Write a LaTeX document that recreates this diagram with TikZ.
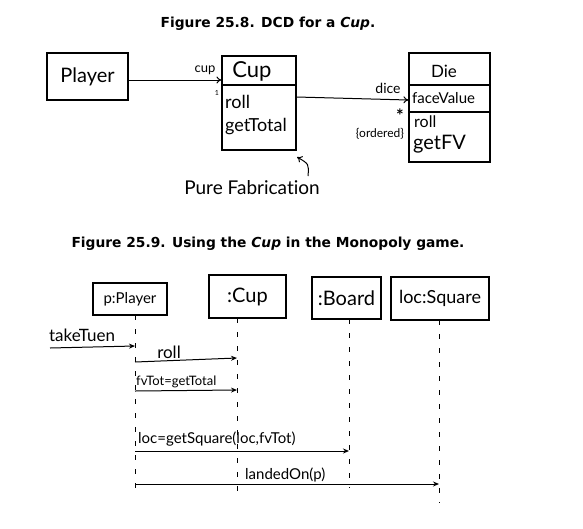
\documentclass[tikz,border=0pt]{standalone}
\usepackage{fontspec}
\setmainfont{Lato}[Ligatures=NoCommon]
\newfontfamily\titlefont{DejaVu Sans}
\usetikzlibrary{arrows.meta,positioning}
\newcommand{\fs}[1]{\fontsize{#1}{#1}\selectfont}
\tikzset{
  classbox/.style={draw, line width=1.1pt, inner sep=0pt},
  objbox/.style={draw, line width=1.1pt, inner sep=3pt},
  lifeline/.style={line width=1pt, dash pattern=on 5pt off 9pt},
  msg/.style={line width=1pt, -{Stealth[length=6pt,width=5pt]}},
  assoc/.style={line width=1pt, -{To[length=5pt,width=7pt]}},
  figtitle/.style={font=\titlefont\bfseries\fs{13.8}},
}
\begin{document}
\begin{tikzpicture}[x=1pt,y=-1pt]
\useasboundingbox[fill=white] (0,0) rectangle (583,528);
% Figure 25.8
\node[figtitle] (t1) at (268,24) {Figure 25.8. DCD for a \textit{Cup}.};
\node[classbox, minimum width=81, minimum height=47, font=\fs{20}] (player) at (87.5,76.5) {Player};
\node[classbox, minimum width=74, minimum height=94] (cup) at (259,103) {};
\draw[line width=1.1pt] (cup.west |- 0,85) -- (cup.east |- 0,85);
\node[font=\fs{22}] (cupname) at (252,71) {Cup};
\node[font=\fs{18}, anchor=west, inner sep=1pt] (cuproll) at (224,102) {roll};
\node[font=\fs{18}, anchor=west, inner sep=1pt] (cuptotal) at (224,127) {getTotal};
\node[classbox, minimum width=81, minimum height=109] (die) at (449.5,107.5) {};
\draw[line width=1.1pt] (die.west |- 0,85) -- (die.east |- 0,85);
\draw[line width=1.1pt] (die.west |- 0,112) -- (die.east |- 0,112);
\node[font=\fs{17}] (diename) at (444,71) {Die};
\node[font=\fs{15}, anchor=west, inner sep=1pt] (dieattr) at (411,98) {faceValue};
\node[font=\fs{16}, anchor=west, inner sep=1pt] (dieops) at (413,122) {roll};
\node[font=\fs{20}, anchor=west, inner sep=1pt] (diefv) at (412,144) {getFV};
\draw[assoc] (player.east |- 0,80) -- (cup.west |- 0,80);
\node[font=\fs{13}] (cuprole) at (205,70) {cup};
\node[font=\fs{7}] (cupmult) at (217,93) {1};
\draw[assoc] (cup.east |- 0,97) -- (die.west |- 0,100);
\node[font=\fs{14}] (dicerole) at (388,88) {dice};
\node[font=\bfseries\fs{18}, inner sep=0pt] (dicemult) at (400,116) {*};
\node[font=\fs{12}, inner sep=1pt] (ordered) at (380,134) {\{ordered\}};
\node[font=\fs{19}] (purefab) at (252,188) {Pure Fabrication};
\coordinate (fabtail) at (308,176);
\draw[assoc] (fabtail) .. controls (309,164) .. (297,157);
% Figure 25.9
\node[figtitle] (t2) at (268,244) {Figure 25.9. Using the \textit{Cup} in the Monopoly game.};
\node[objbox, minimum width=74, minimum height=32, font=\fs{15}] (pplayer) at (130,299) {p:Player};
\node[objbox, minimum width=77, minimum height=43, font=\fs{20}] (ocup) at (247.5,296.5) {:Cup};
\node[objbox, minimum width=69, minimum height=42, font=\fs{20}] (board) at (346.5,298) {:Board};
\node[objbox, minimum width=98, minimum height=43, font=\fs{18}] (square) at (440,298.5) {loc:Square};
\coordinate (lp) at (135,315);
\coordinate (lc) at (237,318);
\coordinate (lb) at (349,319);
\coordinate (ls) at (439,320);
\draw[lifeline] (lp) -- (lp |- 0,488);
\draw[lifeline] (lc) -- (lc |- 0,497);
\draw[lifeline] (lb) -- (lb |- 0,488);
\draw[lifeline] (ls) -- (ls |- 0,503);
\coordinate (start) at (50,348);
\draw[msg] (start) -- (lp |- 0,346);
\node[font=\fs{17}] (taketurn) at (82,335) {takeTuen};
\draw[msg] (lp |- 0,362) -- (lc |- 0,358);
\node[font=\fs{17}] (rollmsg) at (169,352) {roll};
\draw[msg] (lp |- 0,391) -- (lc |- 0,390);
\node[font=\fs{13}, anchor=south west, inner sep=1pt] (totalmsg) at (135,389) {fvTot=getTotal};
\draw[msg] (lp |- 0,451) -- (lb |- 0,451);
\node[font=\fs{15}, anchor=south west, inner sep=1pt] (squaremsg) at (137,447) {loc=getSquare(loc,fvTot)};
\draw[msg] (lp |- 0,484) -- (ls |- 0,484);
\node[font=\fs{15}, anchor=south west, inner sep=1pt] (landedmsg) at (244,483) {landedOn(p)};
\end{tikzpicture}
\end{document}
